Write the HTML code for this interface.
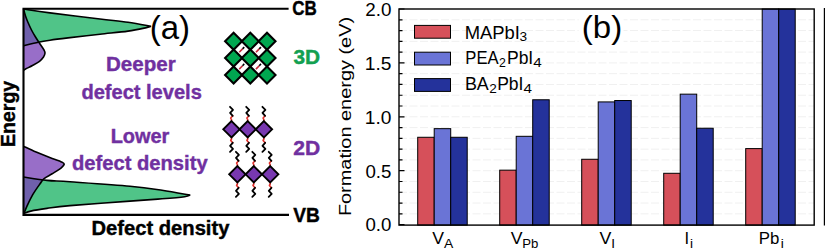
<!DOCTYPE html>
<html><head><meta charset="utf-8"><style>
html,body{margin:0;padding:0;background:#fff;}
body{width:825px;height:249px;overflow:hidden;font-family:"Liberation Sans",sans-serif;}
svg{display:block;}
</style></head><body>
<svg width="825" height="249" viewBox="0 0 825 249">
<rect width="825" height="249" fill="#fff"/>
<path d="M23.5,9 C27.92,9.65 37.25,11.23 50.00,12.90 C62.75,14.57 87.00,17.43 100.00,19.00 C113.00,20.57 119.50,21.08 128.00,22.30 C136.50,23.52 147.17,25.63 151.00,26.30 C150.23,26.52 150.23,26.80 146.40,27.60 C142.57,28.40 135.73,30.00 128.00,31.10 C120.27,32.20 110.00,33.07 100.00,34.20 C90.00,35.33 76.33,36.90 68.00,37.90 C59.67,38.90 54.95,39.48 50.00,40.20 C45.05,40.92 42.72,41.27 38.30,42.20 C33.88,43.13 25.97,45.20 23.50,45.80 Z" fill="#50c488"/>
<path d="M23.5,9 C23.83,10.17 24.78,13.83 25.50,16.00 C26.22,18.17 26.80,19.67 27.80,22.00 C28.80,24.33 30.22,27.50 31.50,30.00 C32.78,32.50 34.08,34.67 35.50,37.00 C36.92,39.33 38.58,41.83 40.00,44.00 C41.42,46.17 43.17,48.50 44.00,50.00 C44.83,51.50 45.08,51.83 45.00,53.00 C44.92,54.17 44.42,55.62 43.50,57.00 C42.58,58.38 41.33,59.88 39.50,61.30 C37.67,62.72 34.82,64.22 32.50,65.50 C30.18,66.78 27.10,68.17 25.60,69.00 C24.10,69.83 23.85,70.25 23.50,70.50 Z" fill="#7943b8" fill-opacity="0.77"/>
<path d="M23.5,177 C27.42,177.57 39.25,179.60 47.00,180.40 C54.75,181.20 56.17,180.83 70.00,181.80 C83.83,182.77 114.65,184.80 130.00,186.20 C145.35,187.60 152.07,188.72 162.10,190.20 C172.13,191.68 185.52,194.28 190.20,195.10 C189.27,195.37 189.28,196.08 184.60,196.70 C179.92,197.32 171.20,198.07 162.10,198.80 C153.00,199.53 145.35,199.97 130.00,201.10 C114.65,202.23 83.83,204.38 70.00,205.60 C56.17,206.82 53.53,207.48 47.00,208.40 C40.47,209.32 34.63,210.25 30.80,211.10 C26.97,211.95 25.13,213.10 24.00,213.50 Z" fill="#50c488"/>
<path d="M23.5,146.2 C25.60,147.17 31.32,149.95 36.10,152.00 C40.88,154.05 48.05,156.88 52.20,158.50 C56.35,160.12 59.00,160.77 61.00,161.70 C63.00,162.63 64.20,163.03 64.20,164.10 C64.20,165.17 63.00,166.48 61.00,168.10 C59.00,169.72 55.02,172.05 52.20,173.80 C49.38,175.55 46.15,176.90 44.10,178.60 C42.05,180.30 41.82,181.28 39.90,184.00 C37.98,186.72 34.72,191.28 32.60,194.90 C30.48,198.52 28.63,202.60 27.20,205.70 C25.77,208.80 24.53,212.20 24.00,213.50 Z" fill="#7943b8" fill-opacity="0.77"/>
<path d="M23.5,9 C27.92,9.65 37.25,11.23 50.00,12.90 C62.75,14.57 87.00,17.43 100.00,19.00 C113.00,20.57 119.50,21.08 128.00,22.30 C136.50,23.52 147.17,25.63 151.00,26.30 C150.23,26.52 150.23,26.80 146.40,27.60 C142.57,28.40 135.73,30.00 128.00,31.10 C120.27,32.20 110.00,33.07 100.00,34.20 C90.00,35.33 76.33,36.90 68.00,37.90 C59.67,38.90 54.95,39.48 50.00,40.20 C45.05,40.92 42.72,41.27 38.30,42.20 C33.88,43.13 25.97,45.20 23.50,45.80" fill="none" stroke="#000" stroke-width="1.6"/>
<path d="M23.5,9 C23.83,10.17 24.78,13.83 25.50,16.00 C26.22,18.17 26.80,19.67 27.80,22.00 C28.80,24.33 30.22,27.50 31.50,30.00 C32.78,32.50 34.08,34.67 35.50,37.00 C36.92,39.33 38.58,41.83 40.00,44.00 C41.42,46.17 43.17,48.50 44.00,50.00 C44.83,51.50 45.08,51.83 45.00,53.00 C44.92,54.17 44.42,55.62 43.50,57.00 C42.58,58.38 41.33,59.88 39.50,61.30 C37.67,62.72 34.82,64.22 32.50,65.50 C30.18,66.78 27.10,68.17 25.60,69.00 C24.10,69.83 23.85,70.25 23.50,70.50" fill="none" stroke="#000" stroke-width="1.6"/>
<path d="M23.5,177 C27.42,177.57 39.25,179.60 47.00,180.40 C54.75,181.20 56.17,180.83 70.00,181.80 C83.83,182.77 114.65,184.80 130.00,186.20 C145.35,187.60 152.07,188.72 162.10,190.20 C172.13,191.68 185.52,194.28 190.20,195.10 C189.27,195.37 189.28,196.08 184.60,196.70 C179.92,197.32 171.20,198.07 162.10,198.80 C153.00,199.53 145.35,199.97 130.00,201.10 C114.65,202.23 83.83,204.38 70.00,205.60 C56.17,206.82 53.53,207.48 47.00,208.40 C40.47,209.32 34.63,210.25 30.80,211.10 C26.97,211.95 25.13,213.10 24.00,213.50" fill="none" stroke="#000" stroke-width="1.6"/>
<path d="M23.5,146.2 C25.60,147.17 31.32,149.95 36.10,152.00 C40.88,154.05 48.05,156.88 52.20,158.50 C56.35,160.12 59.00,160.77 61.00,161.70 C63.00,162.63 64.20,163.03 64.20,164.10 C64.20,165.17 63.00,166.48 61.00,168.10 C59.00,169.72 55.02,172.05 52.20,173.80 C49.38,175.55 46.15,176.90 44.10,178.60 C42.05,180.30 41.82,181.28 39.90,184.00 C37.98,186.72 34.72,191.28 32.60,194.90 C30.48,198.52 28.63,202.60 27.20,205.70 C25.77,208.80 24.53,212.20 24.00,213.50" fill="none" stroke="#000" stroke-width="1.6"/>
<path d="M23.5,8.8 H288.6 M23.5,7.8 V216 M22.5,214.9 H289" stroke="#000" stroke-width="2.1" fill="none"/>
<text x="292.32" y="15.30" font-family="Liberation Sans" font-weight="bold" font-size="19.80" fill="#000" textLength="24.53" lengthAdjust="spacingAndGlyphs" stroke="#000" stroke-width="0.4">CB</text>
<text x="293.36" y="221.60" font-family="Liberation Sans" font-weight="bold" font-size="19.80" fill="#000" textLength="26.59" lengthAdjust="spacingAndGlyphs" stroke="#000" stroke-width="0.4">VB</text>
<text x="91.44" y="234.90" font-family="Liberation Sans" font-weight="bold" font-size="19.80" fill="#000" textLength="137.98" lengthAdjust="spacingAndGlyphs" stroke="#000" stroke-width="0.4">Defect density</text>
<text transform="translate(15.10,145.60) rotate(-90)" x="-1.31" y="0" font-family="Liberation Sans" font-weight="bold" stroke="#000" stroke-width="0.4" font-size="19.80" fill="#000" textLength="66.02" lengthAdjust="spacingAndGlyphs">Energy</text>
<text x="149.74" y="39.30" font-family="Liberation Sans" font-size="34.00" fill="#000" textLength="40.33" lengthAdjust="spacingAndGlyphs">(a)</text>
<text x="106.01" y="70.60" font-family="Liberation Sans" font-weight="bold" font-size="20.50" fill="#7030a0" textLength="69.66" lengthAdjust="spacingAndGlyphs" stroke="#7030a0" stroke-width="0.4">Deeper</text>
<text x="81.40" y="98.50" font-family="Liberation Sans" font-weight="bold" font-size="20.50" fill="#7030a0" textLength="120.43" lengthAdjust="spacingAndGlyphs" stroke="#7030a0" stroke-width="0.4">defect levels</text>
<text x="110.65" y="142.60" font-family="Liberation Sans" font-weight="bold" font-size="20.50" fill="#7030a0" textLength="58.74" lengthAdjust="spacingAndGlyphs" stroke="#7030a0" stroke-width="0.4">Lower</text>
<text x="71.99" y="169.80" font-family="Liberation Sans" font-weight="bold" font-size="20.50" fill="#7030a0" textLength="135.64" lengthAdjust="spacingAndGlyphs" stroke="#7030a0" stroke-width="0.4">defect density</text>
<text x="293.43" y="63.50" font-family="Liberation Sans" font-weight="bold" font-size="19.80" fill="#13a050" textLength="26.67" lengthAdjust="spacingAndGlyphs" stroke="#13a050" stroke-width="0.4">3D</text>
<text x="293.16" y="154.70" font-family="Liberation Sans" font-weight="bold" font-size="19.80" fill="#7030a0" textLength="26.95" lengthAdjust="spacingAndGlyphs" stroke="#7030a0" stroke-width="0.4">2D</text>
<path d="M233.6,32.7 L242.1,41.2 L233.6,49.7 L225.1,41.2 Z" fill="#00a650" stroke="#000" stroke-width="2.1" stroke-linejoin="miter"/><path d="M250.3,32.7 L258.8,41.2 L250.3,49.7 L241.8,41.2 Z" fill="#00a650" stroke="#000" stroke-width="2.1" stroke-linejoin="miter"/><path d="M267.0,32.7 L275.5,41.2 L267.0,49.7 L258.5,41.2 Z" fill="#00a650" stroke="#000" stroke-width="2.1" stroke-linejoin="miter"/><path d="M233.6,49.5 L242.1,58.0 L233.6,66.5 L225.1,58.0 Z" fill="#00a650" stroke="#000" stroke-width="2.1" stroke-linejoin="miter"/><path d="M250.3,49.5 L258.8,58.0 L250.3,66.5 L241.8,58.0 Z" fill="#00a650" stroke="#000" stroke-width="2.1" stroke-linejoin="miter"/><path d="M267.0,49.5 L275.5,58.0 L267.0,66.5 L258.5,58.0 Z" fill="#00a650" stroke="#000" stroke-width="2.1" stroke-linejoin="miter"/><path d="M233.6,66.4 L242.1,74.9 L233.6,83.4 L225.1,74.9 Z" fill="#00a650" stroke="#000" stroke-width="2.1" stroke-linejoin="miter"/><path d="M250.3,66.4 L258.8,74.9 L250.3,83.4 L241.8,74.9 Z" fill="#00a650" stroke="#000" stroke-width="2.1" stroke-linejoin="miter"/><path d="M267.0,66.4 L275.5,74.9 L267.0,83.4 L258.5,74.9 Z" fill="#00a650" stroke="#000" stroke-width="2.1" stroke-linejoin="miter"/><path d="M239.25,52.300000000000004 L242.54999999999998,48.9" stroke="#c42a3a" stroke-width="1.6"/><path d="M242.54999999999998,48.9 L244.25,47.1" stroke="#000" stroke-width="1.6"/><path d="M255.95,52.300000000000004 L259.25,48.9" stroke="#c42a3a" stroke-width="1.6"/><path d="M259.25,48.9 L260.95,47.1" stroke="#000" stroke-width="1.6"/><path d="M239.25,69.10000000000001 L242.54999999999998,65.7" stroke="#c42a3a" stroke-width="1.6"/><path d="M242.54999999999998,65.7 L244.25,63.900000000000006" stroke="#000" stroke-width="1.6"/><path d="M255.95,69.10000000000001 L259.25,65.7" stroke="#c42a3a" stroke-width="1.6"/><path d="M259.25,65.7 L260.95,63.900000000000006" stroke="#000" stroke-width="1.6"/>
<polyline points="231.50,121.10 231.50,119.60 230.70,118.10 232.70,115.80" stroke="#e0302a" stroke-width="1.6" fill="none" stroke-linejoin="round" stroke-linecap="round"/><polyline points="232.70,115.80 230.10,112.80 233.00,109.80 230.00,106.80" stroke="#000" stroke-width="1.8" fill="none" stroke-linejoin="round" stroke-linecap="round"/><polyline points="231.50,137.50 231.50,139.00 230.70,140.50 232.70,142.80" stroke="#e0302a" stroke-width="1.6" fill="none" stroke-linejoin="round" stroke-linecap="round"/><polyline points="232.70,142.80 230.10,145.80 233.00,148.80 230.00,151.80" stroke="#000" stroke-width="1.8" fill="none" stroke-linejoin="round" stroke-linecap="round"/><polyline points="247.70,121.10 247.70,119.60 246.90,118.10 248.90,115.80" stroke="#e0302a" stroke-width="1.6" fill="none" stroke-linejoin="round" stroke-linecap="round"/><polyline points="248.90,115.80 246.30,112.80 249.20,109.80 246.20,106.80" stroke="#000" stroke-width="1.8" fill="none" stroke-linejoin="round" stroke-linecap="round"/><polyline points="247.70,137.50 247.70,139.00 246.90,140.50 248.90,142.80" stroke="#e0302a" stroke-width="1.6" fill="none" stroke-linejoin="round" stroke-linecap="round"/><polyline points="248.90,142.80 246.30,145.80 249.20,148.80 246.20,151.80" stroke="#000" stroke-width="1.8" fill="none" stroke-linejoin="round" stroke-linecap="round"/><polyline points="263.90,121.10 263.90,119.60 263.10,118.10 265.10,115.80" stroke="#e0302a" stroke-width="1.6" fill="none" stroke-linejoin="round" stroke-linecap="round"/><polyline points="265.10,115.80 262.50,112.80 265.40,109.80 262.40,106.80" stroke="#000" stroke-width="1.8" fill="none" stroke-linejoin="round" stroke-linecap="round"/><polyline points="263.90,137.50 263.90,139.00 263.10,140.50 265.10,142.80" stroke="#e0302a" stroke-width="1.6" fill="none" stroke-linejoin="round" stroke-linecap="round"/><polyline points="265.10,142.80 262.50,145.80 265.40,148.80 262.40,151.80" stroke="#000" stroke-width="1.8" fill="none" stroke-linejoin="round" stroke-linecap="round"/><polyline points="237.40,166.10 237.40,164.60 236.60,163.10 238.60,160.80" stroke="#e0302a" stroke-width="1.6" fill="none" stroke-linejoin="round" stroke-linecap="round"/><polyline points="238.60,160.80 236.00,157.80 238.90,154.80 235.90,151.80" stroke="#000" stroke-width="1.8" fill="none" stroke-linejoin="round" stroke-linecap="round"/><polyline points="237.40,182.50 237.40,184.00 236.60,185.50 238.60,187.80" stroke="#e0302a" stroke-width="1.6" fill="none" stroke-linejoin="round" stroke-linecap="round"/><polyline points="238.60,187.80 236.00,190.80 238.90,193.80 235.90,196.80" stroke="#000" stroke-width="1.8" fill="none" stroke-linejoin="round" stroke-linecap="round"/><polyline points="253.80,166.10 253.80,164.60 253.00,163.10 255.00,160.80" stroke="#e0302a" stroke-width="1.6" fill="none" stroke-linejoin="round" stroke-linecap="round"/><polyline points="255.00,160.80 252.40,157.80 255.30,154.80 252.30,151.80" stroke="#000" stroke-width="1.8" fill="none" stroke-linejoin="round" stroke-linecap="round"/><polyline points="253.80,182.50 253.80,184.00 253.00,185.50 255.00,187.80" stroke="#e0302a" stroke-width="1.6" fill="none" stroke-linejoin="round" stroke-linecap="round"/><polyline points="255.00,187.80 252.40,190.80 255.30,193.80 252.30,196.80" stroke="#000" stroke-width="1.8" fill="none" stroke-linejoin="round" stroke-linecap="round"/><polyline points="270.20,166.10 270.20,164.60 269.40,163.10 271.40,160.80" stroke="#e0302a" stroke-width="1.6" fill="none" stroke-linejoin="round" stroke-linecap="round"/><polyline points="271.40,160.80 268.80,157.80 271.70,154.80 268.70,151.80" stroke="#000" stroke-width="1.8" fill="none" stroke-linejoin="round" stroke-linecap="round"/><polyline points="270.20,182.50 270.20,184.00 269.40,185.50 271.40,187.80" stroke="#e0302a" stroke-width="1.6" fill="none" stroke-linejoin="round" stroke-linecap="round"/><polyline points="271.40,187.80 268.80,190.80 271.70,193.80 268.70,196.80" stroke="#000" stroke-width="1.8" fill="none" stroke-linejoin="round" stroke-linecap="round"/><path d="M231.5,121.10000000000001 L239.7,129.3 L231.5,137.5 L223.3,129.3 Z" fill="#7838b0" stroke="#000" stroke-width="1.9"/><path d="M247.7,121.10000000000001 L255.89999999999998,129.3 L247.7,137.5 L239.5,129.3 Z" fill="#7838b0" stroke="#000" stroke-width="1.9"/><path d="M263.9,121.10000000000001 L272.09999999999997,129.3 L263.9,137.5 L255.7,129.3 Z" fill="#7838b0" stroke="#000" stroke-width="1.9"/><path d="M237.4,166.10000000000002 L245.6,174.3 L237.4,182.5 L229.20000000000002,174.3 Z" fill="#7838b0" stroke="#000" stroke-width="1.9"/><path d="M253.8,166.10000000000002 L262.0,174.3 L253.8,182.5 L245.60000000000002,174.3 Z" fill="#7838b0" stroke="#000" stroke-width="1.9"/><path d="M270.2,166.10000000000002 L278.4,174.3 L270.2,182.5 L262.0,174.3 Z" fill="#7838b0" stroke="#000" stroke-width="1.9"/>
<path d="M399,213.82 H814.2 M399,203.04 H814.2 M399,192.26 H814.2 M399,181.48 H814.2 M399,170.70 H814.2 M399,159.92 H814.2 M399,149.14 H814.2 M399,138.36 H814.2 M399,127.58 H814.2 M399,116.80 H814.2 M399,106.02 H814.2 M399,95.24 H814.2 M399,84.46 H814.2 M399,73.68 H814.2 M399,62.90 H814.2 M399,52.12 H814.2 M399,41.34 H814.2 M399,30.56 H814.2 M399,19.78 H814.2" stroke="#f0f0f0" stroke-width="1" stroke-dasharray="8,2.5" fill="none"/>
<rect x="417.71" y="137.28" width="16.5" height="87.82" fill="#d6505a" stroke="#000" stroke-width="1"/><rect x="434.21" y="128.66" width="16.5" height="96.44" fill="#6a74d6" stroke="#000" stroke-width="1"/><rect x="450.71" y="137.28" width="16.5" height="87.82" fill="#24329b" stroke="#000" stroke-width="1"/><rect x="499.71" y="170.16" width="16.5" height="54.94" fill="#d6505a" stroke="#000" stroke-width="1"/><rect x="516.21" y="136.31" width="16.5" height="88.79" fill="#6a74d6" stroke="#000" stroke-width="1"/><rect x="532.71" y="99.77" width="16.5" height="125.33" fill="#24329b" stroke="#000" stroke-width="1"/><rect x="581.71" y="159.27" width="16.5" height="65.83" fill="#d6505a" stroke="#000" stroke-width="1"/><rect x="598.21" y="101.92" width="16.5" height="123.18" fill="#6a74d6" stroke="#000" stroke-width="1"/><rect x="614.71" y="100.52" width="16.5" height="124.58" fill="#24329b" stroke="#000" stroke-width="1"/><rect x="663.71" y="173.29" width="16.5" height="51.81" fill="#d6505a" stroke="#000" stroke-width="1"/><rect x="680.21" y="94.16" width="16.5" height="130.94" fill="#6a74d6" stroke="#000" stroke-width="1"/><rect x="696.71" y="128.23" width="16.5" height="96.87" fill="#24329b" stroke="#000" stroke-width="1"/><rect x="745.71" y="148.60" width="16.5" height="76.50" fill="#d6505a" stroke="#000" stroke-width="1"/><rect x="762.21" y="9.00" width="16.5" height="216.10" fill="#6a74d6" stroke="#000" stroke-width="1"/><rect x="778.71" y="9.00" width="16.5" height="216.10" fill="#24329b" stroke="#000" stroke-width="1"/>
<path d="M399,224.60 h5.5 M399,213.82 h3.5 M399,203.04 h3.5 M399,192.26 h3.5 M399,181.48 h3.5 M399,170.70 h5.5 M399,159.92 h3.5 M399,149.14 h3.5 M399,138.36 h3.5 M399,127.58 h3.5 M399,116.80 h5.5 M399,106.02 h3.5 M399,95.24 h3.5 M399,84.46 h3.5 M399,73.68 h3.5 M399,62.90 h5.5 M399,52.12 h3.5 M399,41.34 h3.5 M399,30.56 h3.5 M399,19.78 h3.5 M399,9.00 h5.5" stroke="#000" stroke-width="1.2" fill="none"/>
<rect x="399" y="9.0" width="415.20000000000005" height="216.1" fill="none" stroke="#000" stroke-width="1.4"/>
<path d="M824.5,8 V225.5" stroke="#000" stroke-width="1.4"/>
<text x="365.45" y="231.40" font-family="Liberation Sans" font-size="18.20" fill="#000" textLength="25.95" lengthAdjust="spacingAndGlyphs">0.0</text>
<text x="365.45" y="177.50" font-family="Liberation Sans" font-size="18.20" fill="#000" textLength="26.00" lengthAdjust="spacingAndGlyphs">0.5</text>
<text x="364.76" y="123.60" font-family="Liberation Sans" font-size="18.20" fill="#000" textLength="26.66" lengthAdjust="spacingAndGlyphs">1.0</text>
<text x="364.76" y="69.70" font-family="Liberation Sans" font-size="18.20" fill="#000" textLength="26.71" lengthAdjust="spacingAndGlyphs">1.5</text>
<text x="365.26" y="15.80" font-family="Liberation Sans" font-size="18.20" fill="#000" textLength="26.15" lengthAdjust="spacingAndGlyphs">2.0</text>
<text transform="translate(351.00,214.50) rotate(-90)" x="-1.64" y="0" font-family="Liberation Sans" font-size="16.00" fill="#000" textLength="199.17" lengthAdjust="spacingAndGlyphs">Formation energy (eV)</text>
<text x="432.31" y="244.00" font-family="Liberation Sans" font-size="16.60" fill="#000" textLength="11.77" lengthAdjust="spacingAndGlyphs">V</text>
<text x="443.97" y="247.60" font-family="Liberation Sans" font-size="13.60" fill="#000" textLength="9.26" lengthAdjust="spacingAndGlyphs">A</text>
<text x="510.81" y="244.00" font-family="Liberation Sans" font-size="16.60" fill="#000" textLength="11.77" lengthAdjust="spacingAndGlyphs">V</text>
<text x="522.21" y="247.60" font-family="Liberation Sans" font-size="13.60" fill="#000" textLength="16.12" lengthAdjust="spacingAndGlyphs">Pb</text>
<text x="599.51" y="244.20" font-family="Liberation Sans" font-size="16.60" fill="#000" textLength="11.87" lengthAdjust="spacingAndGlyphs">V</text>
<text x="611.36" y="247.60" font-family="Liberation Sans" font-size="13.60" fill="#000">I</text>
<text x="684.60" y="244.20" font-family="Liberation Sans" font-size="16.60" fill="#000">I</text>
<text x="689.99" y="247.60" font-family="Liberation Sans" font-size="13.60" fill="#000">i</text>
<text x="758.71" y="244.10" font-family="Liberation Sans" font-size="16.60" fill="#000" textLength="20.57" lengthAdjust="spacingAndGlyphs">Pb</text>
<text x="780.69" y="247.60" font-family="Liberation Sans" font-size="13.60" fill="#000">i</text>
<rect x="414.5" y="25.4" width="36" height="12.8" fill="#d6505a" stroke="#000" stroke-width="1"/>
<rect x="414.5" y="52.2" width="36" height="12.8" fill="#6a74d6" stroke="#000" stroke-width="1"/>
<rect x="414.5" y="78.6" width="36" height="12.8" fill="#24329b" stroke="#000" stroke-width="1"/>
<text x="464.68" y="38.50" font-family="Liberation Sans" font-size="19.00" fill="#000" textLength="55.24" lengthAdjust="spacingAndGlyphs">MAPbI</text>
<text x="519.49" y="41.00" font-family="Liberation Sans" font-size="12.40" fill="#000" textLength="7.61" lengthAdjust="spacingAndGlyphs">3</text>
<text x="465.33" y="64.40" font-family="Liberation Sans" font-size="19.00" fill="#000" textLength="33.29" lengthAdjust="spacingAndGlyphs">PEA</text>
<text x="499.08" y="67.00" font-family="Liberation Sans" font-size="12.40" fill="#000" textLength="6.85" lengthAdjust="spacingAndGlyphs">2</text>
<text x="506.96" y="64.40" font-family="Liberation Sans" font-size="19.00" fill="#000" textLength="26.28" lengthAdjust="spacingAndGlyphs">PbI</text>
<text x="533.36" y="67.00" font-family="Liberation Sans" font-size="12.40" fill="#000" textLength="8.48" lengthAdjust="spacingAndGlyphs">4</text>
<text x="464.92" y="90.40" font-family="Liberation Sans" font-size="19.00" fill="#000" textLength="23.91" lengthAdjust="spacingAndGlyphs">BA</text>
<text x="489.22" y="93.40" font-family="Liberation Sans" font-size="12.40" fill="#000" textLength="7.58" lengthAdjust="spacingAndGlyphs">2</text>
<text x="497.16" y="90.40" font-family="Liberation Sans" font-size="19.00" fill="#000" textLength="26.28" lengthAdjust="spacingAndGlyphs">PbI</text>
<text x="523.56" y="93.40" font-family="Liberation Sans" font-size="12.40" fill="#000" textLength="8.48" lengthAdjust="spacingAndGlyphs">4</text>
<rect x="578.6" y="11" width="45" height="37" fill="#fff"/>
<text x="581.84" y="38.30" font-family="Liberation Sans" font-size="31.50" fill="#000" textLength="40.33" lengthAdjust="spacingAndGlyphs">(b)</text>
</svg>
</body></html>
